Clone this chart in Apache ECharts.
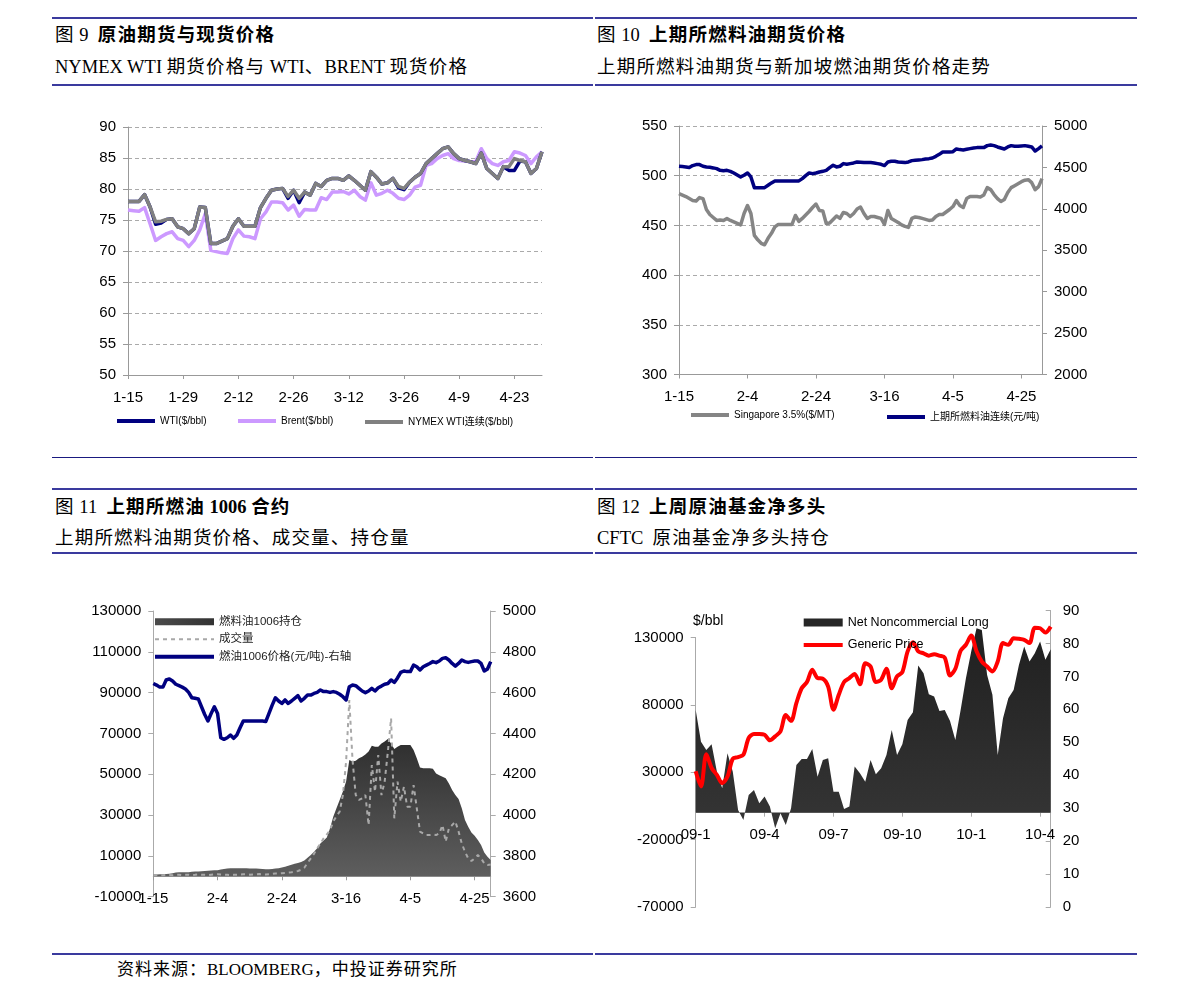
<!DOCTYPE html>
<html lang="zh-CN">
<head>
<meta charset="utf-8">
<title>原油与燃料油期货</title>
<script src="https://cdn.jsdelivr.net/npm/echarts@6/dist/echarts.min.js"></script>
<style>
    body { margin: 0; background: #fff; }
    .page { position: relative; width: 1191px; height: 1001px; overflow: hidden; color: #000;
        font-family: "Liberation Serif", "Noto Sans CJK SC", serif; }
    .hr { position: absolute; height: 0; border-top: 2px solid #3a3a9e; }
    .hr.thin { border-top: 1px solid #1a1a80; }
    .txt { position: absolute; white-space: nowrap; font-size: 18.5px; line-height: 20px; }
    .cn { letter-spacing: 1.2px; }
    .b { font-weight: bold; }
    .src { font-size: 17px; }
    .src .cn { letter-spacing: 1px; }
    .chart { position: absolute; }
    .c9 { left: 52px; top: 100px; width: 541px; height: 350px; }
    .c10 { left: 595px; top: 100px; width: 542px; height: 350px; }
    .c11 { left: 52px; top: 570px; width: 541px; height: 370px; }
    .c12 { left: 595px; top: 570px; width: 542px; height: 370px; }
</style>
</head>
<body>
<div class="page">
    <!-- 第一行标题 -->
    <div class="hr" style="left:52px;top:17px;width:541px"></div>
    <div class="hr" style="left:595px;top:17px;width:542px"></div>
    <div class="txt" style="left:55px;top:25px"><span class="cn">图</span> 9&nbsp;&nbsp;<span class="cn b">原油期货与现货价格</span></div>
    <div class="txt" style="left:55px;top:57px">NYMEX WTI <span class="cn">期货价格与</span> WTI<span class="cn">、</span>BRENT <span class="cn">现货价格</span></div>
    <div class="txt" style="left:597px;top:25px"><span class="cn">图</span> 10&nbsp;&nbsp;<span class="cn b">上期所燃料油期货价格</span></div>
    <div class="txt" style="left:597px;top:57px"><span class="cn">上期所燃料油期货与新加坡燃油期货价格走势</span></div>
    <div class="hr" style="left:52px;top:84px;width:541px"></div>
    <div class="hr" style="left:595px;top:84px;width:542px"></div>

    <div class="hr thin" style="left:52px;top:457px;width:541px"></div>
    <div class="hr thin" style="left:595px;top:457px;width:542px"></div>

    <!-- 第二行标题 -->
    <div class="hr" style="left:52px;top:488px;width:541px"></div>
    <div class="hr" style="left:595px;top:488px;width:542px"></div>
    <div class="txt" style="left:55px;top:497px"><span class="cn">图</span> 11&nbsp;&nbsp;<span class="cn b">上期所燃油</span> <span class="b">1006</span> <span class="cn b">合约</span></div>
    <div class="txt" style="left:55px;top:528px"><span class="cn">上期所燃料油期货价格、成交量、持仓量</span></div>
    <div class="txt" style="left:597px;top:497px"><span class="cn">图</span> 12&nbsp;&nbsp;<span class="cn b">上周原油基金净多头</span></div>
    <div class="txt" style="left:597px;top:528px">CFTC&nbsp;&nbsp;<span class="cn">原油基金净多头持仓</span></div>
    <div class="hr" style="left:52px;top:552px;width:541px"></div>
    <div class="hr" style="left:595px;top:552px;width:542px"></div>

    <div class="chart c9"></div>
    <div class="chart c10"></div>
    <div class="chart c11"></div>
    <div class="chart c12"></div>

    <div class="hr" style="left:52px;top:953px;width:541px"></div>
    <div class="hr" style="left:595px;top:953px;width:542px"></div>
    <div class="txt src" style="left:117px;top:960px"><span class="cn">资料来源：</span>BLOOMBERG<span class="cn">，中投证券研究所</span></div>
</div>

<script>
// ===== 数据 =====
// 图9：NYMEX WTI / WTI / Brent（美元/桶），2010-01-15 起的交易日
var wti9 = [78.0, 78.0, 78.0, 79.1, 77.1, 74.3, 74.5, 75.1, 75.2, 73.9,
    73.6, 72.8, 73.6, 77.1, 77.0, 71.2, 71.2, 71.6, 72.0, 74.0,
    75.2, 74.0, 74.0, 74.0, 77.0, 78.5, 79.8, 80.0, 80.1, 78.5,
    79.8, 77.8, 79.5, 79.0, 80.9, 80.4, 81.4, 81.7, 81.7, 81.4,
    82.1, 81.4, 80.6, 79.8, 82.8, 81.9, 80.8, 81.0, 81.7, 80.2,
    79.9, 81.1, 81.9, 82.5, 84.1, 84.9, 85.7, 86.5, 86.8, 85.7,
    84.9, 84.6, 84.4, 84.1, 85.8, 83.3, 82.5, 81.7, 83.6, 83.0,
    83.0, 84.5, 84.4, 82.5, 83.3, 86.0];
var brent9 = [76.6, 76.5, 76.4, 77.0, 74.4, 71.7, 72.3, 72.8, 73.1, 72.0,
    71.7, 70.7, 71.7, 73.4, 76.0, 70.1, 69.9, 69.7, 69.6, 72.0,
    73.4, 72.4, 72.3, 72.0, 75.2, 76.3, 77.9, 77.9, 77.8, 76.6,
    77.4, 75.6, 76.7, 76.6, 76.6, 78.6, 78.3, 79.5, 79.5, 79.6,
    79.2, 79.8, 78.8, 78.2, 81.0, 79.0, 79.3, 79.8, 79.3, 78.5,
    78.3, 79.0, 80.3, 80.6, 83.8, 84.1, 84.9, 85.4, 85.7, 84.9,
    84.6, 84.5, 84.4, 84.4, 86.5, 84.9, 84.1, 83.8, 84.4, 84.6,
    86.0, 85.8, 85.4, 84.1, 85.2, 86.0];
var nymex9 = [78.0, 78.0, 78.0, 79.1, 77.1, 74.7, 74.8, 75.1, 75.2, 73.9,
    73.6, 72.8, 73.6, 77.1, 77.0, 71.2, 71.2, 71.6, 72.0, 74.0,
    75.2, 74.0, 74.0, 74.0, 77.0, 78.5, 79.8, 80.0, 80.1, 78.8,
    79.8, 78.5, 79.5, 79.0, 80.9, 80.4, 81.4, 81.7, 81.7, 81.4,
    82.1, 81.4, 80.6, 79.8, 82.8, 81.9, 80.8, 81.0, 81.7, 80.4,
    80.1, 81.1, 81.9, 82.5, 84.1, 84.9, 85.7, 86.5, 86.8, 85.7,
    84.9, 84.6, 84.4, 84.1, 85.8, 83.3, 82.5, 81.7, 83.6, 83.6,
    84.9, 84.6, 84.4, 82.5, 83.3, 86.0];

// 图10：新加坡燃油（美元/吨，左轴）与上期所燃料油连续（元/吨，右轴），2010-01-15 起逐日
var sgp10 = [482, 480.5, 479, 477, 475, 474.5, 478, 477, 466, 461,
    458, 455, 455.5, 455, 457, 455, 453.5, 452, 450.5, 462,
    470, 462, 440, 435.5, 432, 430.5, 437, 442, 448.5, 451,
    451, 451, 451, 451, 460, 454, 457, 460.5, 464, 468,
    471.5, 465, 464.5, 452, 452.5, 456, 459.5, 457, 463, 462,
    459, 462, 466.5, 468.5, 462, 457, 459, 459, 458, 457,
    451, 465, 457, 455, 453, 450.5, 449, 448, 457, 458.5,
    458, 457, 456, 455, 455.5, 459, 461, 461, 463.5, 466,
    469, 475, 470, 468, 477, 479, 479, 479, 478.5, 480.5,
    488, 486, 481, 477, 474, 476, 483, 488, 490, 492,
    494, 495.5, 496, 493, 486, 489, 497];
var shfe10 = [4514, 4510, 4506, 4498, 4522, 4534, 4534, 4514, 4506, 4502,
    4494, 4485, 4465, 4461, 4465, 4453, 4433, 4409, 4385, 4405,
    4433, 4385, 4256, 4256, 4256, 4256, 4284, 4313, 4337, 4337,
    4337, 4337, 4337, 4337, 4337, 4337, 4365, 4401, 4433, 4425,
    4433, 4445, 4453, 4465, 4498, 4526, 4506, 4514, 4546, 4538,
    4546, 4554, 4566, 4562, 4558, 4558, 4558, 4554, 4546, 4538,
    4522, 4566, 4574, 4574, 4566, 4562, 4558, 4566, 4582, 4586,
    4590, 4594, 4602, 4606, 4614, 4634, 4658, 4686, 4686, 4686,
    4690, 4723, 4715, 4711, 4719, 4727, 4735, 4739, 4739, 4739,
    4763, 4771, 4763, 4747, 4735, 4723, 4747, 4763, 4755, 4755,
    4759, 4763, 4755, 4747, 4698, 4727, 4759];

// 图11：燃料油1006 持仓、成交量（左轴）与价格（右轴），2010-01-15 起逐日
var oi11 = [900, 900, 1000, 1000, 1100, 1200, 1500, 1800, 2000, 2000,
    2000, 2000, 2200, 2400, 2400, 2500, 2600, 2700, 2800, 2900,
    3000, 3300, 3600, 3800, 3900, 4000, 4000, 4000, 3900, 3900,
    3800, 3800, 3800, 3700, 3600, 3500, 3500, 3600, 3800, 4000,
    4300, 4700, 5200, 5700, 6100, 6500, 7000, 7800, 9100, 10400,
    12000, 13700, 16100, 17500, 19000, 23500, 29200, 33300, 37400, 41500,
    46400, 57000, 56200, 56600, 57800, 58600, 59700, 61100, 64000, 63500,
    63500, 65100, 66000, 67300, 65100, 62400, 63500, 64300, 64300, 64300,
    64300, 61900, 57800, 53300, 53000, 53000, 53000, 52700, 50400, 49500,
    48800, 48000, 45500, 42300, 39800, 37900, 33300, 27600, 24300, 21500,
    19900, 17800, 15300, 11700, 9600, 8000];
var vol11 = [400, 500, 600, 500, 700, 600, 500, 700, 800, 600,
    700, 800, 600, 700, 900, 800, 700, 600, 800, 900,
    1000, 900, 800, 700, 600, 700, 800, 900, 1000, 900,
    800, 900, 1000, 1100, 1000, 900, 1000, 1200, 1400, 1300,
    1500, 1600, 1800, 2000, 2300, 2600, 3200, 4200, 6500, 8800,
    11000, 13700, 16000, 18600, 20500, 22700, 26800, 29500, 31700, 39800,
    56200, 86400, 57000, 39800, 37400, 38200, 39800, 25100, 54500, 41500,
    59400, 39800, 46400, 61100, 77400, 28400, 46400, 36600, 43900, 34100,
    34100, 44700, 33300, 21900, 21000, 20200, 20200, 20500, 20200, 21000,
    25100, 17000, 23500, 25100, 26800, 21900, 16100, 12000, 8800, 7500,
    8800, 10400, 8800, 6300, 5500, 5800];
var price11 = [4645, 4637, 4627, 4627, 4662, 4667, 4657, 4641, 4634, 4627,
    4618, 4601, 4575, 4572, 4569, 4531, 4493, 4461, 4498, 4531,
    4498, 4379, 4371, 4379, 4392, 4376, 4392, 4428, 4461, 4461,
    4461, 4461, 4461, 4461, 4461, 4458, 4498, 4539, 4575, 4559,
    4547, 4564, 4547, 4559, 4572, 4585, 4559, 4572, 4588, 4588,
    4596, 4601, 4613, 4605, 4605, 4601, 4605, 4601, 4592, 4580,
    4564, 4629, 4637, 4634, 4621, 4608, 4600, 4608, 4621, 4608,
    4624, 4632, 4641, 4645, 4662, 4650, 4672, 4699, 4706, 4703,
    4703, 4735, 4727, 4711, 4727, 4735, 4743, 4752, 4747, 4755,
    4768, 4771, 4760, 4743, 4730, 4743, 4760, 4752, 4748, 4752,
    4755, 4755, 4743, 4706, 4716, 4752];

// 图12：CFTC 净多头（左轴）与原油价格（右轴），2009-01-06 起每周
var netLong12 = [76200, 52700, 46500, 50700, 30400, 18100, 44000, 30400, 2000, -5400,
    13100, 16800, 6900, 11900, 4500, -11600, -500, -9200, 3200, 35400,
    39800, 39800, 47300, 26700, 39100, 40300, 15600, 15600, 2700, 4500,
    34200, 29200, 23000, 39100, 28500, 32900, 42800, 61400, 42800, 50700,
    68800, 74500, 109100, 103500, 87900, 86100, 75500, 76200, 68100, 54000,
    76200, 99700, 119500, 136900, 135600, 102200, 87400, 42800, 70000, 84900,
    91100, 109600, 123300, 112100, 118300, 127000, 113400, 121300];
var price12 = [41.2, 36.6, 46.4, 42.2, 40.1, 37.6, 39.6, 45.0, 45.5, 46.2,
    51.3, 52.5, 52.5, 52.3, 50.6, 51.8, 53.3, 58.3, 56.5, 61.9,
    66.4, 68.3, 72.0, 69.5, 69.3, 66.9, 59.9, 64.4, 68.3, 69.5,
    70.7, 67.6, 74.0, 73.0, 68.3, 69.0, 72.3, 66.4, 70.0, 71.3,
    77.6, 80.4, 77.6, 77.0, 76.3, 76.7, 76.3, 75.7, 70.3, 72.3,
    77.8, 79.6, 82.4, 77.6, 74.5, 73.0, 71.5, 74.5, 80.1, 79.6,
    81.6, 81.4, 81.1, 80.1, 84.8, 84.6, 83.3, 85.1];

// ===== 工具 =====
function pad(n) { return n < 10 ? '0' + n : '' + n; }
// 生成日期类目：start=[年,月,日]，step 天数，skipWeekend 跳过周末
function makeDates(start, count, step, skipWeekend) {
    var out = [];
    var d = new Date(start[0], start[1] - 1, start[2]);
    while (out.length < count) {
        var w = d.getDay();
        if (!skipWeekend || (w !== 0 && w !== 6)) {
            out.push(d.getFullYear() + '-' + pad(d.getMonth() + 1) + '-' + pad(d.getDate()));
        }
        d.setDate(d.getDate() + step);
    }
    return out;
}
function md(v) { return (+v.slice(5, 7)) + '-' + (+v.slice(8, 10)); }
function ym(v) { return v.slice(2, 4) + '-' + (+v.slice(5, 7)); }
// 数值标签不要千分位
function plain(v) { return String(v); }
// x轴放在0值处：按左轴范围算出离底边的偏移
function zeroOffset(min, max, height) { return -height * (0 - min) / (max - min); }

var days9 = makeDates([2010, 1, 15], wti9.length, 1, true);
var days10 = makeDates([2010, 1, 15], sgp10.length, 1, false);
var days11 = makeDates([2010, 1, 15], price11.length, 1, false);
var weeks12 = makeDates([2009, 1, 6], price12.length, 7, false);

var numFont = "'Liberation Sans', Arial, sans-serif";
var mixFont = "'Liberation Sans', 'Noto Sans CJK SC', sans-serif";
var labelStyle = { color: '#000', fontSize: 15, fontFamily: numFont };
var axisGray = '#999';
// 图例里只要线，不要圆点
var hideDot = { opacity: 0 };

// 图9 原油期货与现货价格
(function () {
    let myechart = echarts.init(document.querySelector('.c9'));
    let legendText = { fontSize: 10, color: '#000', fontFamily: mixFont };
    let lg = function (name, left, top) {
        return { data: [name], left: left, top: top, padding: 0, itemWidth: 38, itemHeight: 10,
            itemStyle: hideDot, lineStyle: { width: 4 }, textStyle: legendText };
    };
    var option = {
        animation: false,
        grid: { left: 76, top: 27, width: 414, height: 248 },
        legend: [
            lg('WTI($/bbl)', 63, 316),
            lg('Brent($/bbl)', 184, 316),
            lg('NYMEX WTI连续($/bbl)', 311, 317)
        ],
        xAxis: {
            type: 'category',
            boundaryGap: false,
            data: days9,
            axisLine: { lineStyle: { color: axisGray } },
            axisTick: { interval: 9, length: 4, lineStyle: { color: axisGray } },
            axisLabel: Object.assign({ interval: 9, margin: 15, formatter: md }, labelStyle)
        },
        yAxis: {
            type: 'value',
            min: 50,
            max: 90,
            interval: 5,
            axisLine: { show: true, lineStyle: { color: axisGray } },
            axisTick: { show: true, length: 5, lineStyle: { color: axisGray } },
            axisLabel: Object.assign({ margin: 12, formatter: plain }, labelStyle),
            splitLine: { lineStyle: { color: '#aaa', type: [4, 3] } }
        },
        series: [
            { name: 'Brent($/bbl)', type: 'line', data: brent9, symbol: 'none', color: '#cc99ff', lineStyle: { width: 3.5, join: 'round' } },
            { name: 'WTI($/bbl)', type: 'line', data: wti9, symbol: 'none', color: '#000080', lineStyle: { width: 3.5, join: 'round' } },
            { name: 'NYMEX WTI连续($/bbl)', type: 'line', data: nymex9, symbol: 'none', color: '#808080', lineStyle: { width: 3.5, join: 'round' } }
        ]
    };
    myechart.setOption(option);
    window.addEventListener('resize', function () {
        myechart.resize();
    });
})();

// 图10 上期所燃料油期货价格
(function () {
    let myechart = echarts.init(document.querySelector('.c10'));
    let legendText = { fontSize: 10, color: '#000', fontFamily: mixFont };
    let lg = function (name, left, top) {
        return { data: [name], left: left, top: top, padding: 0, itemWidth: 38, itemHeight: 10,
            itemStyle: hideDot, lineStyle: { width: 4 }, textStyle: legendText };
    };
    var option = {
        animation: false,
        grid: { left: 84, top: 26, width: 363, height: 248.5 },
        legend: [
            lg('Singapore 3.5%($/MT)', 94, 310),
            lg('上期所燃料油连续(元/吨)', 290, 312)
        ],
        xAxis: {
            type: 'category',
            boundaryGap: false,
            data: days10,
            axisLine: { lineStyle: { color: axisGray } },
            axisTick: { interval: 19, length: 4, lineStyle: { color: axisGray } },
            axisLabel: Object.assign({ interval: 19, margin: 15, formatter: md }, labelStyle)
        },
        yAxis: [
            {
                type: 'value',
                min: 300,
                max: 550,
                interval: 50,
                axisLine: { show: true, lineStyle: { color: axisGray } },
                axisTick: { show: true, length: 5, lineStyle: { color: axisGray } },
                axisLabel: Object.assign({ margin: 12, formatter: plain }, labelStyle),
                splitLine: { lineStyle: { color: '#aaa', type: [4, 3] } }
            },
            {
                type: 'value',
                position: 'right',
                min: 2000,
                max: 5000,
                interval: 500,
                axisLine: { show: true, lineStyle: { color: axisGray } },
                axisTick: { show: true, length: 5, lineStyle: { color: axisGray } },
                axisLabel: Object.assign({ margin: 12, formatter: plain }, labelStyle),
                splitLine: { show: false }
            }
        ],
        series: [
            { name: 'Singapore 3.5%($/MT)', type: 'line', yAxisIndex: 0, data: sgp10, symbol: 'none', color: '#858585', lineStyle: { width: 3.5, join: 'round' } },
            { name: '上期所燃料油连续(元/吨)', type: 'line', yAxisIndex: 1, data: shfe10, symbol: 'none', color: '#000080', lineStyle: { width: 3.5, join: 'round' } }
        ]
    };
    myechart.setOption(option);
    window.addEventListener('resize', function () {
        myechart.resize();
    });
})();

// 图11 上期所燃油1006合约
(function () {
    let myechart = echarts.init(document.querySelector('.c11'));
    let yMin = -10000, yMax = 130000, gridH = 285.7;
    let areaColor = new echarts.graphic.LinearGradient(0, 0, 0, 1, [
        { offset: 0, color: '#2e2e2e' },
        { offset: 1, color: '#5e5e5e' }
    ]);
    let swatch = new echarts.graphic.LinearGradient(0, 0, 1, 0, [
        { offset: 0, color: '#4a4a4a' },
        { offset: 1, color: '#333' }
    ]);
    var option = {
        animation: false,
        grid: { left: 101.3, top: 41, width: 337.4, height: gridH },
        legend: {
            orient: 'vertical',
            left: 101,
            top: 46,
            padding: 0,
            itemGap: 6,
            itemWidth: 59,
            itemHeight: 7,
            itemStyle: hideDot,
            textStyle: { fontSize: 11.5, color: '#222', fontFamily: mixFont },
            data: [
                { name: '燃料油1006持仓', icon: 'rect', itemStyle: { color: swatch, opacity: 1 } },
                { name: '成交量', lineStyle: { width: 2 } },
                { name: '燃油1006价格(元/吨)-右轴', lineStyle: { width: 4 } }
            ]
        },
        xAxis: {
            type: 'category',
            boundaryGap: false,
            data: days11,
            offset: zeroOffset(yMin, yMax, gridH),
            axisLine: { onZero: false, lineStyle: { color: axisGray } },
            axisTick: { interval: 19, length: 4, lineStyle: { color: axisGray } },
            axisLabel: Object.assign({ interval: 19, margin: 15, formatter: md }, labelStyle)
        },
        yAxis: [
            {
                type: 'value',
                min: yMin,
                max: yMax,
                interval: 20000,
                axisLine: { show: true, lineStyle: { color: '#aaa' } },
                axisTick: { show: true, length: 5, lineStyle: { color: '#aaa' } },
                axisLabel: Object.assign({ margin: 12, formatter: plain }, labelStyle),
                splitLine: { show: false }
            },
            {
                type: 'value',
                position: 'right',
                min: 3600,
                max: 5000,
                interval: 200,
                axisLine: { show: true, lineStyle: { color: '#aaa' } },
                axisTick: { show: true, length: 5, lineStyle: { color: '#aaa' } },
                axisLabel: Object.assign({ margin: 12, formatter: plain }, labelStyle),
                splitLine: { show: false }
            }
        ],
        series: [
            {
                name: '燃料油1006持仓',
                type: 'line',
                yAxisIndex: 0,
                data: oi11,
                symbol: 'none',
                color: '#444',
                lineStyle: { width: 0 },
                areaStyle: { color: areaColor, opacity: 1 }
            },
            {
                name: '成交量',
                type: 'line',
                yAxisIndex: 0,
                data: vol11,
                symbol: 'none',
                color: '#a8a8a8',
                lineStyle: { width: 2, type: [4, 4] }
            },
            {
                name: '燃油1006价格(元/吨)-右轴',
                type: 'line',
                yAxisIndex: 1,
                data: price11,
                symbol: 'none',
                color: '#000080',
                lineStyle: { width: 3.5, join: 'round' }
            }
        ]
    };
    myechart.setOption(option);
    window.addEventListener('resize', function () {
        myechart.resize();
    });
})();

// 图12 上周原油基金净多头
(function () {
    let myechart = echarts.init(document.querySelector('.c12'));
    let yMin = -70000, yMax = 150000, gridH = 296.5;
    let areaColor = new echarts.graphic.LinearGradient(0, 0, 0, 1, [
        { offset: 0, color: '#202020' },
        { offset: 1, color: '#353535' }
    ]);
    var option = {
        animation: false,
        title: {
            text: '$/bbl',
            left: 98,
            top: 44,
            padding: 0,
            textStyle: { fontSize: 14, fontWeight: 'normal', color: '#000', fontFamily: numFont }
        },
        // 两个网格：主网格放数据，第二个只画左轴（到130000为止）
        grid: [
            { left: 100.7, top: 40.5, width: 355, height: gridH },
            { left: 100.7, top: 67.5, width: 355, height: 269.5 }
        ],
        legend: {
            orient: 'vertical',
            left: 206.7,
            top: 46,
            padding: 0,
            itemGap: 9.5,
            itemWidth: 39,
            itemHeight: 8,
            itemStyle: hideDot,
            textStyle: { fontSize: 12.5, color: '#000', fontFamily: numFont },
            data: [
                { name: 'Net Noncommercial Long', icon: 'rect', itemStyle: { color: '#262626', opacity: 1 } },
                { name: 'Generic Price', lineStyle: { width: 4 } }
            ]
        },
        xAxis: [
            {
                gridIndex: 0,
                type: 'category',
                boundaryGap: false,
                data: weeks12,
                offset: zeroOffset(yMin, yMax, gridH),
                axisLine: { onZero: false, lineStyle: { color: '#bbb' } },
                axisTick: { interval: 12, length: 4, lineStyle: { color: '#aaa' } },
                axisLabel: Object.assign({ interval: 12, margin: 15, formatter: ym }, labelStyle)
            },
            { gridIndex: 1, type: 'category', boundaryGap: false, data: weeks12, show: false }
        ],
        yAxis: [
            { gridIndex: 0, type: 'value', min: yMin, max: yMax, show: false, splitLine: { show: false } },
            {
                gridIndex: 0,
                type: 'value',
                position: 'right',
                min: 0,
                max: 90,
                interval: 10,
                axisLine: { show: true, lineStyle: { color: '#aaa' } },
                axisTick: { show: true, inside: true, length: 5, lineStyle: { color: '#aaa' } },
                axisLabel: Object.assign({ margin: 12, formatter: plain }, labelStyle),
                splitLine: { show: false }
            },
            {
                gridIndex: 1,
                type: 'value',
                min: yMin,
                max: 130000,
                interval: 50000,
                axisLine: { show: true, lineStyle: { color: '#aaa' } },
                axisTick: { show: true, length: 5, lineStyle: { color: '#aaa' } },
                axisLabel: Object.assign({ margin: 12, formatter: plain }, labelStyle),
                splitLine: { show: false }
            }
        ],
        series: [
            {
                name: 'Net Noncommercial Long',
                type: 'line',
                xAxisIndex: 0,
                yAxisIndex: 0,
                data: netLong12,
                symbol: 'none',
                color: '#262626',
                lineStyle: { width: 0 },
                areaStyle: { color: areaColor, opacity: 1 }
            },
            {
                name: 'Generic Price',
                type: 'line',
                xAxisIndex: 0,
                yAxisIndex: 1,
                data: price12,
                symbol: 'none',
                smooth: 0.3,
                color: '#ff0000',
                lineStyle: { width: 4 }
            }
        ]
    };
    myechart.setOption(option);
    window.addEventListener('resize', function () {
        myechart.resize();
    });
})();
</script>
</body>
</html>
